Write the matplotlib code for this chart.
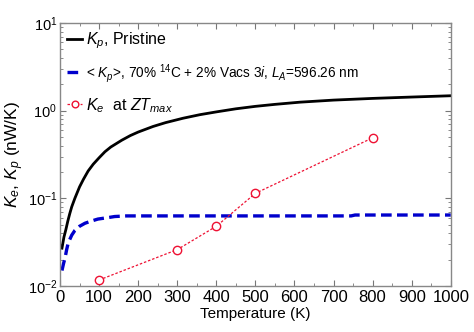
import matplotlib
matplotlib.use("Agg")
import matplotlib.pyplot as plt
from matplotlib.ticker import LogLocator, MultipleLocator, NullFormatter, FixedLocator

plt.rcParams['font.family'] = ['Liberation Sans', 'DejaVu Sans']
plt.rcParams['mathtext.fontset'] = 'custom'
plt.rcParams['mathtext.rm'] = 'Liberation Sans'
plt.rcParams['mathtext.it'] = 'Liberation Sans:italic'
plt.rcParams['mathtext.bf'] = 'Liberation Sans:bold'

# Phonon thermal conductance, pristine
t_pristine = [5, 10, 15, 20, 25, 30, 38, 50, 60, 72, 85, 100, 115, 130, 158,
              180, 200, 238, 270, 315, 358, 401, 450, 500, 550, 614, 700, 800,
              900, 1000]
kp_pristine = [0.027, 0.036, 0.044, 0.055, 0.067, 0.08, 0.10, 0.135, 0.165,
               0.205, 0.245, 0.29, 0.34, 0.385, 0.46, 0.52, 0.57, 0.66, 0.73,
               0.82, 0.90, 0.97, 1.05, 1.12, 1.18, 1.25, 1.32, 1.38, 1.43, 1.48]

# Averaged phonon conductance, isotope + vacancy disordered
t_disorder = [5, 9, 13, 17, 21, 30, 38, 50, 64, 80, 97, 120, 140, 170, 200,
              300, 400, 500, 600, 700, 745, 755, 800, 900, 1000]
kp_disorder = [0.015, 0.018, 0.021, 0.026, 0.031, 0.038, 0.043, 0.048, 0.052,
               0.055, 0.058, 0.060, 0.062, 0.063, 0.063, 0.063, 0.063, 0.063,
               0.063, 0.063, 0.063, 0.0645, 0.0645, 0.0645, 0.0645]

# Electronic conductance at ZT maximum
t_ke = [100, 300, 400, 500, 800]
ke_zt = [0.0117, 0.026, 0.048, 0.114, 0.49]

fig = plt.figure(figsize=(4.74, 3.32), dpi=100)
ax = fig.add_axes([0.1266, 0.1386, 0.8244, 0.7921])

ax.plot(t_pristine, kp_pristine, color='black', lw=2.0,
        label=r'$K_p$, Pristine')
ax.plot(t_disorder, kp_disorder, color='#0000cc', lw=2.4, ls=(0, (3.2, 1.6)),
        label=r'< $K_p$>, 70% $^{14}$C + 2% Vacs 3$i$, $L_A$=596.26 nm')
ax.plot(t_ke, ke_zt, color='#ee1133', lw=0.9, ls=(0, (2, 1.5)), marker='o',
        ms=6, mfc='white', mec='#ee1133', mew=1.0,
        label=r'$K_e$  at $ZT_{max}$')

ax.set_yscale('log')
ax.set_xlim(0, 1000)
ax.set_ylim(1e-2, 1e1)
ax.xaxis.set_major_locator(FixedLocator(list(range(0, 1001, 100))))
ax.xaxis.set_minor_locator(MultipleLocator(50))
ax.yaxis.set_major_locator(LogLocator(base=10, numticks=10))
ax.yaxis.set_minor_locator(LogLocator(base=10, subs=range(2, 10), numticks=10))
ax.yaxis.set_minor_formatter(NullFormatter())

ax.tick_params(which='both', direction='in', top=True, right=True,
               color='#777777')
ax.tick_params(axis='x', labelsize=12, pad=3)
ax.tick_params(axis='y', labelsize=10.5, pad=2)
ax.tick_params(which='major', length=4)
ax.tick_params(which='minor', length=2)
for s in ax.spines.values():
    s.set_color('#888888')
    s.set_linewidth(1.0)

ax.set_xlabel('Temperature (K)', fontsize=11, labelpad=1)
ax.set_ylabel(r'$K_e$, $K_p$ (nW/K)', fontsize=12.5)
ax.yaxis.set_label_coords(-0.086, 0.5)

leg = ax.legend(loc='upper left', frameon=False, fontsize=11.5,
                handlelength=0.95, handletextpad=0.2, labelspacing=0.7,
                borderaxespad=0.3, borderpad=0.15, markerscale=0.8)
leg.get_texts()[1].set_fontsize(9.8)

fig.savefig('out.png', dpi=100)
